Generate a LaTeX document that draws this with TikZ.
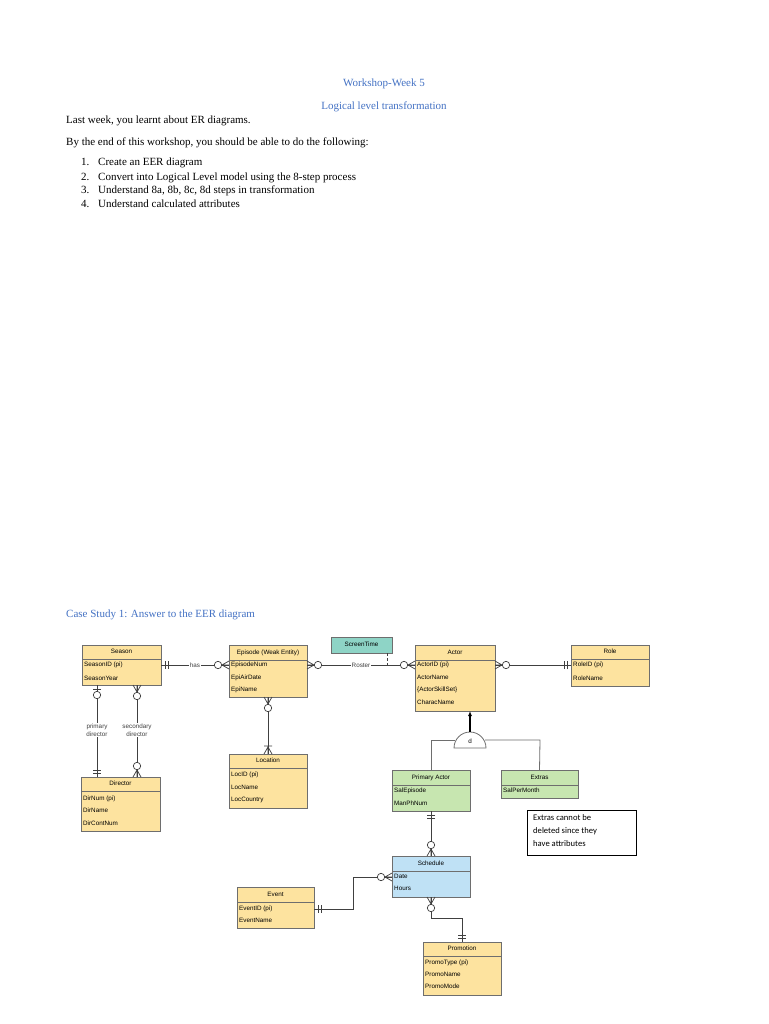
\documentclass[tikz,border=0pt]{standalone}
\usepackage{fontspec}
\usetikzlibrary{arrows.meta}
\setmainfont{Liberation Serif}
\newfontfamily\dsans{Liberation Sans}
\newfontfamily\notefont{Carlito}
\definecolor{hdblue}{HTML}{4472C4}
\definecolor{ery}{HTML}{FDE39F}
\definecolor{erg}{HTML}{C7E6B0}
\definecolor{erb}{HTML}{BFE1F5}
\definecolor{ert}{HTML}{8ED4C6}
\definecolor{erline}{HTML}{6E6E6E}
\begin{document}
\begin{tikzpicture}[x=1pt,y=-1pt,
  body/.style={font=\fontsize{11}{13}\selectfont,anchor=west,inner sep=0,text height=7pt,text depth=2pt},
  ent/.style={draw=erline,line width=0.8pt},
  ttl/.style={font=\dsans\fontsize{6.3}{7}\selectfont,inner sep=0,text height=4.6pt,text depth=1.4pt},
  row/.style={font=\dsans\fontsize{6.3}{7}\selectfont,inner sep=0,anchor=west,text height=4.6pt,text depth=1.4pt},
  conn/.style={draw=black!75,line width=0.7pt},
  pics/one/.style={code={\draw[conn] (4,-4)--(4,4) (7,-4)--(7,4);}},
  pics/zmany/.style={code={\draw[conn] (0,-4)--(7,0)--(0,4) (0,0)--(7,0);
     \draw[conn,fill=white] (11,0) circle (3.7);}},
  pics/zone/.style={code={\draw[conn] (4,-4)--(4,4); \draw[conn,fill=white] (10,0) circle (3.7);}},
  pics/omany/.style={code={\draw[conn] (0,-4)--(7,0)--(0,4) (0,0)--(7,0) (8,-4)--(8,4);}},
]
\useasboundingbox (0,0) rectangle (768,1024);
\fill[white] (0,0) rectangle (768,1024);
% ---------- text ----------
\node[body,anchor=center,text=hdblue] (t1) at (384,84) {Workshop-Week 5};
\node[body,anchor=center,text=hdblue] (t2) at (384,107) {Logical level transformation};
\node[body] (t3) at (66,121) {Last week, you learnt about ER diagrams.};
\node[body] (t4) at (66,143) {By the end of this workshop, you should be able to do the following:};
\foreach \n/\y/\t in {1/163/Create an EER diagram,2/178/Convert into Logical Level model using the 8-step process,3/191/{Understand 8a, 8b, 8c, 8d steps in transformation},4/205/Understand calculated attributes}{
  \node[body] (n\n) at (81,\y) {\n.};
  \node[body] (l\n) at (98,\y) {\t};
}
\node[body,text=hdblue] (cs) at (66,615) {Case Study 1: Answer to the EER diagram};
% ---------- boxes ----------
\newcommand\erbox[8]{% name x1 y1 x2 y2 headerbottom color title
  \path[ent,fill=#7] (#2,#3) rectangle (#4,#5);
  \draw[ent] (#2,#6)--(#4,#6);
  \node[ttl] (#1) at ({(#2+#4)/2},{(#3+#6)/2}) {#8};
  \coordinate (#1N) at ({(#2+#4)/2},#3);
  \coordinate (#1S) at ({(#2+#4)/2},#5);
}
\erbox{season}{82}{645}{161}{685}{659}{ery}{Season}
\node[row] (s1) at (84,665) {SeasonID (pi)};
\node[row] (s2) at (84,679) {SeasonYear};
\erbox{episode}{229}{645}{307}{697}{660}{ery}{Episode (Weak Entity)}
\node[row] (e1) at (231,665) {EpisodeNum};
\node[row] (e2) at (231,678) {EpiAirDate};
\node[row] (e3) at (231,690) {EpiName};
\path[ent,fill=ert] (331,637) rectangle (392,653);
\node[ttl] (screen) at (361.5,645) {ScreenTime};
\erbox{actor}{415}{645}{495}{711}{660}{ery}{Actor}
\node[row] (a1) at (417,665) {ActorID (pi)};
\node[row] (a2) at (417,678) {ActorName};
\node[row] (a3) at (417,690) {\{ActorSkillSet\}};
\node[row] (a4) at (417,703) {CharacName};
\erbox{role}{571}{645}{649}{686}{659}{ery}{Role}
\node[row] (r1) at (573,665) {RoleID (pi)};
\node[row] (r2) at (573,679) {RoleName};
\erbox{director}{81}{777}{160}{831}{791}{ery}{Director}
\node[row] (d1) at (83,799) {DirNum (pi)};
\node[row] (d2) at (83,811) {DirName};
\node[row] (d3) at (83,824) {DirContNum};
\erbox{location}{229}{754}{307}{808}{768}{ery}{Location}
\node[row] (o1) at (231,775) {LocID (pi)};
\node[row] (o2) at (231,788) {LocName};
\node[row] (o3) at (231,800) {LocCountry};
\erbox{pactor}{392}{770}{470}{811}{785}{erg}{Primary Actor}
\node[row] (p1) at (394,791) {SalEpisode};
\node[row] (p2) at (394,804) {ManPhNum};
\erbox{extras}{501}{770}{578}{798}{785}{erg}{Extras}
\node[row] (x1) at (503,791) {SalPerMonth};
\erbox{schedule}{392}{856}{470}{897}{871}{erb}{Schedule}
\node[row] (c1) at (394,877) {Date};
\node[row] (c2) at (394,889) {Hours};
\erbox{event}{237}{887}{314}{928}{902}{ery}{Event}
\node[row] (v1) at (239,909) {EventID (pi)};
\node[row] (v2) at (239,921) {EventName};
\erbox{promo}{423}{942}{501}{995}{956}{ery}{Promotion}
\node[row] (m1) at (425,963) {PromoType (pi)};
\node[row] (m2) at (425,975) {PromoName};
\node[row] (m3) at (425,987) {PromoMode};
\node[draw=black,line width=0.8pt,minimum width=109pt,minimum height=45pt,anchor=north west,inner sep=0] (note) at (527,810) {};
\node[font=\notefont\fontsize{8.6}{13}\selectfont,align=left,anchor=north west,inner sep=0] (notet) at (533,814) {Extras cannot be\\deleted since they\\have attributes};
% ---------- connectors ----------
\coordinate (seE) at (161,665); \coordinate (epW) at (229,665);
\coordinate (epE) at (307,665); \coordinate (acW) at (415,665);
\coordinate (acE) at (495,665); \coordinate (roW) at (571,665);
\draw[conn] (seE)--(epW) node[midway,fill=white,inner sep=1pt,font=\dsans\fontsize{6.3}{7}\selectfont,text=black!75] (has) {has};
\pic at (seE) {one}; \pic[rotate=180] at (epW) {zmany};
\draw[conn] (epE)--(acW) node[midway,fill=white,inner sep=1pt,font=\dsans\fontsize{6.3}{7}\selectfont,text=black!75] (roster) {Roster};
\pic at (epE) {zmany}; \pic[rotate=180] at (acW) {zmany};
\coordinate (stS) at (387,653); \coordinate (stJ) at (387,665);
\draw[conn,dashed,dash pattern=on 3pt off 2pt] (stS)--(stJ);
\draw[conn] (acE)--(roW); \pic at (acE) {zmany}; \pic[rotate=180] at (roW) {one};
% season-director
\coordinate (sd1a) at (97,685); \coordinate (sd1b) at (97,777);
\coordinate (sd2a) at (137,685); \coordinate (sd2b) at (137,777);
\draw[conn] (sd1a)--(sd1b); \draw[conn] (sd2a)--(sd2b);
\pic[rotate=-90] at (sd1a) {zone}; \pic[rotate=90] at (sd1b) {one};
\pic[rotate=-90] at (sd2a) {zmany}; \pic[rotate=90] at (sd2b) {zmany};
\node[fill=white,inner sep=1pt,align=center,font=\dsans\fontsize{6.3}{7.5}\selectfont,text=black!75] (pd) at (97,730) {primary\\director};
\node[fill=white,inner sep=1pt,align=center,font=\dsans\fontsize{6.3}{7.5}\selectfont,text=black!75] (sdl) at (137,730) {secondary\\director};
% episode-location
\draw[conn] (episodeS)--(locationN);
\pic[rotate=-90] at (episodeS) {zmany}; \pic[rotate=90] at (locationN) {omany};
% specialization
\draw[ent,fill=white] (454,748) arc (180:360:16) -- cycle;
\node[ttl] (dl) at (470,742) {d};
\coordinate (dtop) at (470,732);
\coordinate (acB) at (470,711);
\draw[line width=1.2pt,-{Latex[length=5pt,width=4pt]}] (dtop)--(acB);
\coordinate (dl1) at (431,740); \coordinate (dr1) at (540,740);
\draw[ent] (455,740)--(dl1)--(pactorN);
\draw[ent] (485,740)--(dr1)--(extrasN);
% pactor-schedule
\draw[conn] (pactorS)--(scheduleN);
\pic[rotate=-90] at (pactorS) {one}; \pic[rotate=90] at (scheduleN) {zmany};
% event-schedule
\coordinate (evE) at (314,909); \coordinate (scW) at (392,877);
\coordinate (ev1) at (353,909); \coordinate (ev2) at (353,877);
\draw[conn] (evE)--(ev1)--(ev2)--(scW);
\pic at (evE) {one}; \pic[rotate=180] at (scW) {zmany};
% schedule-promo
\coordinate (sp1) at (431,918); \coordinate (sp2) at (462,918);
\coordinate (prN) at (462,942);
\draw[conn] (scheduleS)--(sp1)--(sp2)--(prN);
\pic[rotate=-90] at (scheduleS) {zmany}; \pic[rotate=90] at (prN) {one};
\end{tikzpicture}
\end{document}
